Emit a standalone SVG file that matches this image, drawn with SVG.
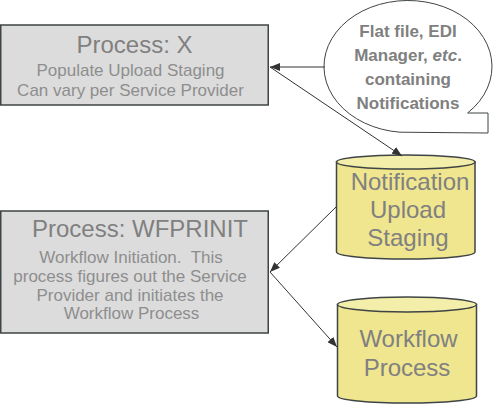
<svg xmlns="http://www.w3.org/2000/svg" width="495" height="404" viewBox="0 0 495 404">
<defs>
<style>
.box{fill:#dcdcdc;stroke:#3f4444;stroke-width:1.5}
.cyl{fill:#efe68f;stroke:#3f4444;stroke-width:1.5}
.cyltop{fill:#f3eeaa;stroke:#3f4444;stroke-width:1.5}
.bub{fill:#ffffff;stroke:#3f4444;stroke-width:1}
.t{font-family:"Liberation Sans",Arial,sans-serif;text-anchor:middle}
.title{font-size:24px;fill:#808080}
.sub{font-size:17px;fill:#8e8e8e}
.bt{font-size:17px;font-weight:bold;fill:#808080}
.ct{font-size:24px;fill:#808080}
.con{stroke:#333333;stroke-width:1;fill:none;marker-end:url(#ah)}
</style>
<marker id="ah" viewBox="0 0 10 8" refX="10" refY="4" markerWidth="10" markerHeight="8" markerUnits="userSpaceOnUse" orient="auto">
<path d="M0,0 L10,4 L0,8 Z" fill="#333333"/>
</marker>
</defs>
<g id="processX">
<rect class="box" x="0.75" y="25" width="267.5" height="80"/>
<text class="t title" x="134.5" y="53">Process: X</text>
<text class="t sub" x="130.5" y="76">Populate Upload Staging</text>
<text class="t sub" x="130.5" y="96">Can vary per Service Provider</text>
</g>
<g id="callout">
<path class="bub" d="M467.6,113 A84,66 0 1 0 400,132.2 L488,133 L488,113 Z"/>
<text class="t bt" x="408" y="37">Flat file, EDI</text>
<text class="t bt" x="408" y="61">Manager, <tspan font-style="italic">etc</tspan>.</text>
<text class="t bt" x="408" y="85">containing</text>
<text class="t bt" x="408" y="109">Notifications</text>
</g>
<g id="notificationStaging">
<path class="cyl" d="M336.5,162 L336.5,252 A69.25,7 0 0 0 475,252 L475,162 Z"/>
<ellipse class="cyltop" cx="405.75" cy="162" rx="69.25" ry="7"/>
<text class="t ct" x="410" y="190">Notification</text>
<text class="t ct" x="408" y="218">Upload</text>
<text class="t ct" x="408" y="246">Staging</text>
</g>
<g id="processWFPRINIT">
<rect class="box" x="0.75" y="211" width="267.5" height="122"/>
<text class="t title" x="140" y="237">Process: WFPRINIT</text>
<text class="t sub" x="131" y="263" xml:space="preserve">Workflow Initiation.  This</text>
<text class="t sub" x="130" y="282">process figures out the Service</text>
<text class="t sub" x="130" y="301">Provider and initiates the</text>
<text class="t sub" x="131.5" y="319">Workflow Process</text>
</g>
<g id="workflowProcess">
<path class="cyl" d="M337.5,304.5 L337.5,396 A69.5,7 0 0 0 476.5,396 L476.5,304.5 Z"/>
<ellipse class="cyltop" cx="407" cy="304.5" rx="69.5" ry="7.5"/>
<text class="t ct" x="408.5" y="347">Workflow</text>
<text class="t ct" x="407" y="376">Process</text>
</g>
<g id="connectors">
<line class="con" x1="325" y1="67" x2="270" y2="67"/>
<line class="con" x1="270" y1="67" x2="402" y2="156"/>
<line class="con" x1="336" y1="207" x2="270" y2="272"/>
<line class="con" x1="270" y1="272" x2="337" y2="347"/>
</g>
</svg>
